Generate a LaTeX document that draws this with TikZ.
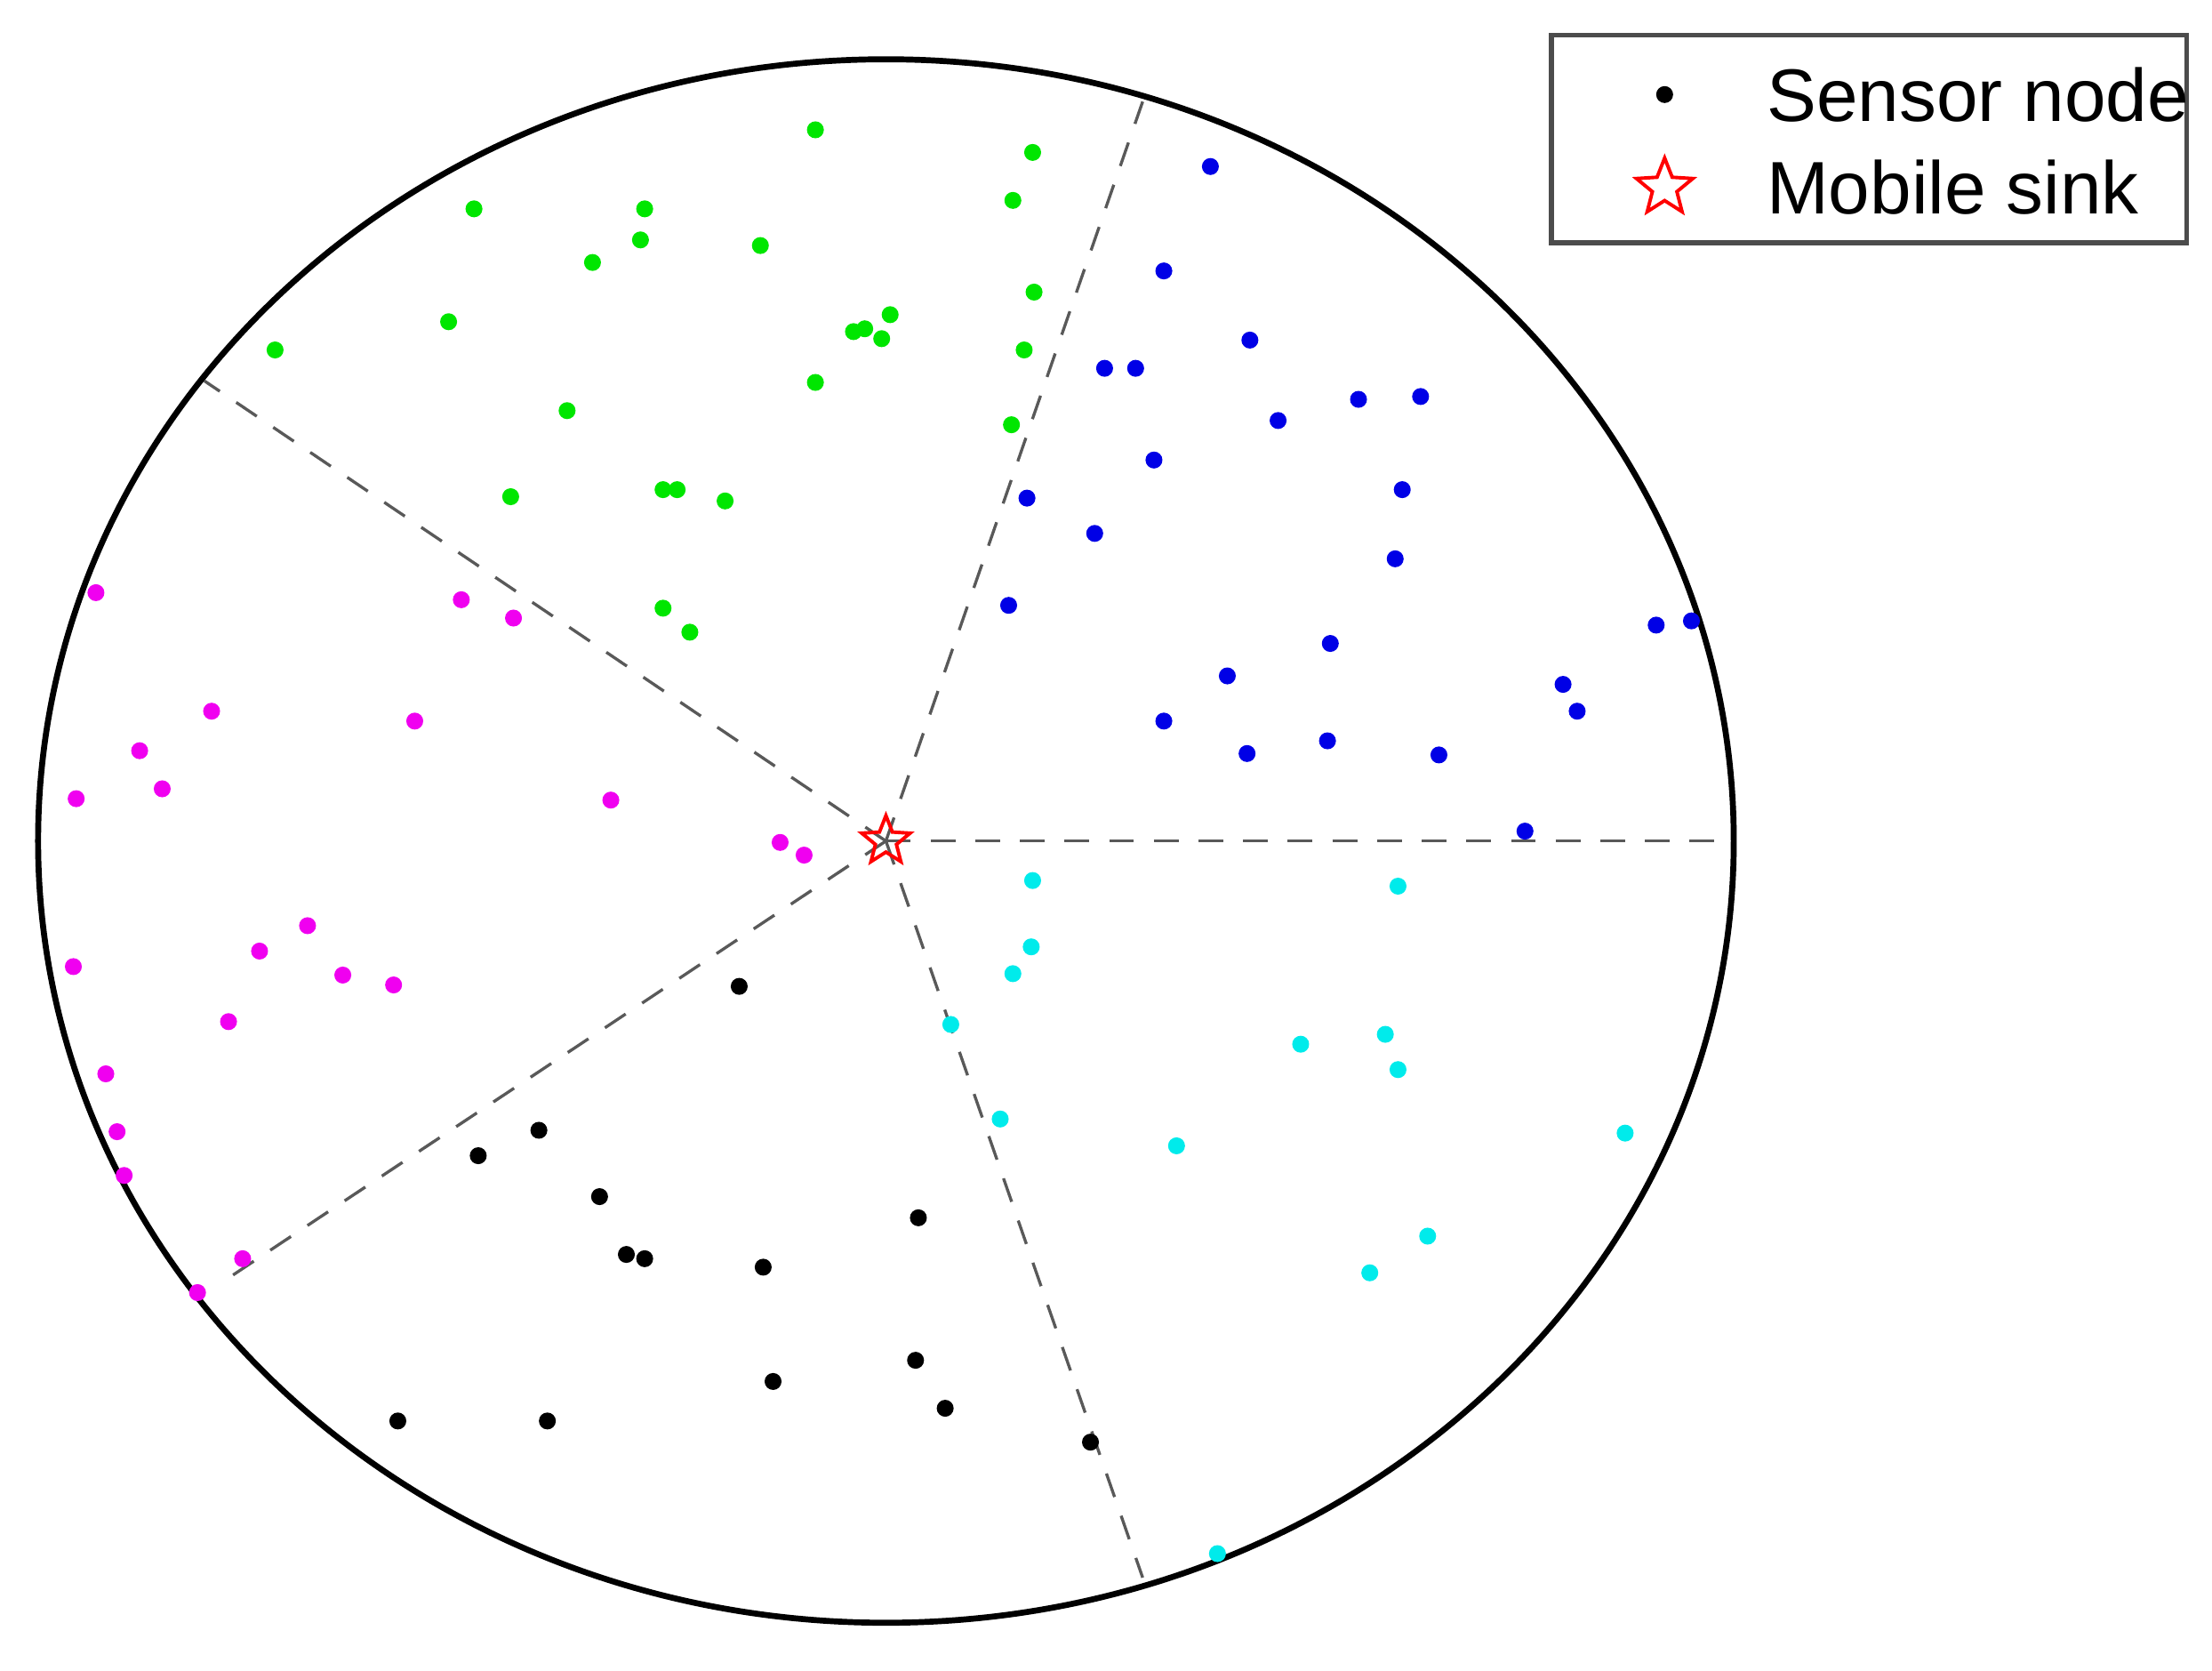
\documentclass[tikz,border=0pt]{standalone}
\usepackage{fontspec}
\setmainfont{Liberation Sans}
\usetikzlibrary{shapes.geometric}
\definecolor{mgreen}{RGB}{0,230,0}
\definecolor{mblue}{RGB}{0,0,230}
\definecolor{mcyan}{RGB}{0,235,235}
\definecolor{mmag}{RGB}{240,0,240}
\begin{document}
\begin{tikzpicture}[x=0.01cm,y=-0.01cm,
  dot/.style={circle,fill,inner sep=0pt,minimum size=0.12cm},
  sep/.style={dashed,draw=black!65,line width=0.6pt,dash pattern=on 5pt off 4pt},
  sinkstar/.style={star,star points=5,star point ratio=2.3,draw=red,line width=0.7pt,inner sep=0pt,minimum size=0.36cm}]
\useasboundingbox (0,0) rectangle (1568,1184);
\coordinate (c) at (628,596);
\foreach \p in {(810,72),(145,270),(163,905),(810,1118),(1228,596)} \draw[sep] (c) -- \p;
\draw[line width=1.2pt] (c) ellipse [x radius=601, y radius=554];
\foreach \p in {(578,92),(732,108),(336,148),(457,148),(718,142),(454,170),(539,174),(420,186),(733,207),(318,228),(605,235),(613,233),(631,223),(625,240),(195,248),(726,248),(578,271),(402,291),(717,301),(362,352),(470,347),(480,347),(514,355),(470,431),(489,448)}
  \node[dot,mgreen] at \p {};
\foreach \p in {(858,118),(825,192),(886,241),(783,261),(805,261),(906,298),(963,283),(1007,281),(818,326),(994,347),(728,353),(776,378),(989,396),(715,429),(1174,443),(1199,440),(943,456),(870,479),(1108,485),(1118,504),(825,511),(941,525),(884,534),(1020,535),(1081,589)}
  \node[dot,mblue] at \p {};
\foreach \p in {(732,624),(991,628),(731,671),(718,690),(674,726),(922,740),(982,733),(991,758),(709,793),(834,812),(1152,803),(1012,876),(971,902),(863,1101)}
  \node[dot,mcyan] at \p {};
\foreach \p in {(68,420),(327,425),(364,438),(150,504),(294,511),(99,532),(115,559),(54,566),(433,567),(553,597),(570,606),(218,656),(184,674),(52,685),(243,691),(279,698),(162,724),(75,761),(83,802),(88,833),(172,892),(140,916)}
  \node[dot,mmag] at \p {};
\foreach \p in {(524,699),(382,801),(339,819),(425,848),(444,889),(457,892),(541,898),(651,863),(548,979),(649,964),(670,998),(282,1007),(388,1007),(773,1022)}
  \node[dot,black] at \p {};
\node[sinkstar] (sink) at (c) {};
% legend
\node[draw=black!70,line width=1pt,minimum width=4.5cm,minimum height=1.47cm,inner sep=0pt] (leg) at (1325,98.5) {};
\node[dot,black] (ld) at (1180,67) {};
\node[anchor=west,font=\fontsize{15}{17}\selectfont] (lt1) at (1240,67) {Sensor node};
\node[sinkstar,minimum size=0.42cm] (ls) at (1180,133) {};
\node[anchor=west,font=\fontsize{15}{17}\selectfont] (lt2) at (1240,133) {Mobile sink};
\end{tikzpicture}
\end{document}
